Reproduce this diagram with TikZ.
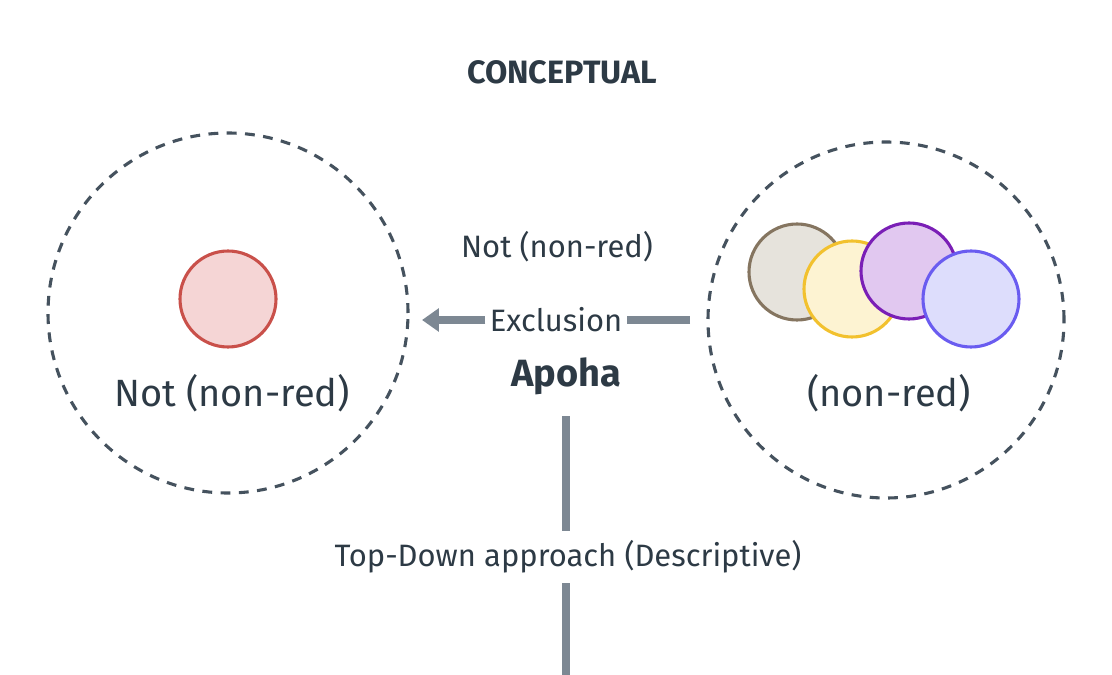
\documentclass[tikz,border=0pt]{standalone}
\usepackage{fontspec}
\setmainfont{Fira Sans}
\usetikzlibrary{arrows.meta}
\definecolor{ink}{HTML}{2D3A45}
\definecolor{dash}{HTML}{45525E}
\definecolor{conn}{HTML}{7D8893}
\definecolor{redF}{HTML}{F5D5D5}\definecolor{redD}{HTML}{C9504A}
\definecolor{grF}{HTML}{E6E3DC}\definecolor{grD}{HTML}{857560}
\definecolor{yeF}{HTML}{FDF3D2}\definecolor{yeD}{HTML}{F2C12E}
\definecolor{puF}{HTML}{E1C8F0}\definecolor{puD}{HTML}{7A1FB6}
\definecolor{blF}{HTML}{DDDDFC}\definecolor{blD}{HTML}{6A5CF0}
\begin{document}
\begin{tikzpicture}[x=0.025cm,y=-0.025cm,
  dc/.style={draw=dash,line width=2.2pt,dash pattern=on 7pt off 6pt},
  dot/.style={circle,line width=2.2pt,minimum size=96*0.025cm,inner sep=0},
  lbl/.style={text=ink,font=\fontsize{27}{31}\selectfont},
  sm/.style={text=ink,font=\fontsize{22}{26}\selectfont},
  conn/.style={draw=conn,line width=5.5pt}]
\useasboundingbox (0,0) rectangle (1112,675);
\node[text=ink,font=\fontsize{23}{27}\selectfont\bfseries] (title) at (562,72) {CONCEPTUAL};
\node[dc,circle,minimum size=360*0.025cm] (L) at (228,313) {};
\node[dc,circle,minimum size=356*0.025cm] (R) at (886,320) {};
\node[dot,fill=redF,draw=redD] (red) at (228,299) {};
\node[lbl] (ltxt) at (232,393) {Not (non-red)};
\node[dot,fill=grF,draw=grD] (c1) at (797,272) {};
\node[dot,fill=yeF,draw=yeD] (c2) at (852,289) {};
\node[dot,fill=puF,draw=puD] (c3) at (909,271) {};
\node[dot,fill=blF,draw=blD] (c4) at (971,299) {};
\node[lbl] (rtxt) at (889,393) {(non-red)};
\node[sm] (top) at (557,247) {Not (non-red)};
\node[sm,inner sep=3pt] (ex) at (556,320) {Exclusion};
\node[text=ink,font=\fontsize{27}{31}\selectfont\bfseries] (apoha) at (566,376) {Apoha};
\node[sm] (td) at (568,557) {Top-Down approach (Descriptive)};
\coordinate (rs) at (690,320);
\coordinate (le) at (422,320);
\coordinate (v1) at (566,416);
\coordinate (v2) at (566,531);
\coordinate (v3) at (566,583);
\coordinate (bot) at (566,675);
\draw[conn] (rs) -- (ex.east);
\draw[conn,-{Triangle[length=12pt,width=16pt]}] (ex.west) -- (le);
\draw[conn] (v1) -- (v2);
\draw[conn] (v3) -- (bot);
\end{tikzpicture}
\end{document}
